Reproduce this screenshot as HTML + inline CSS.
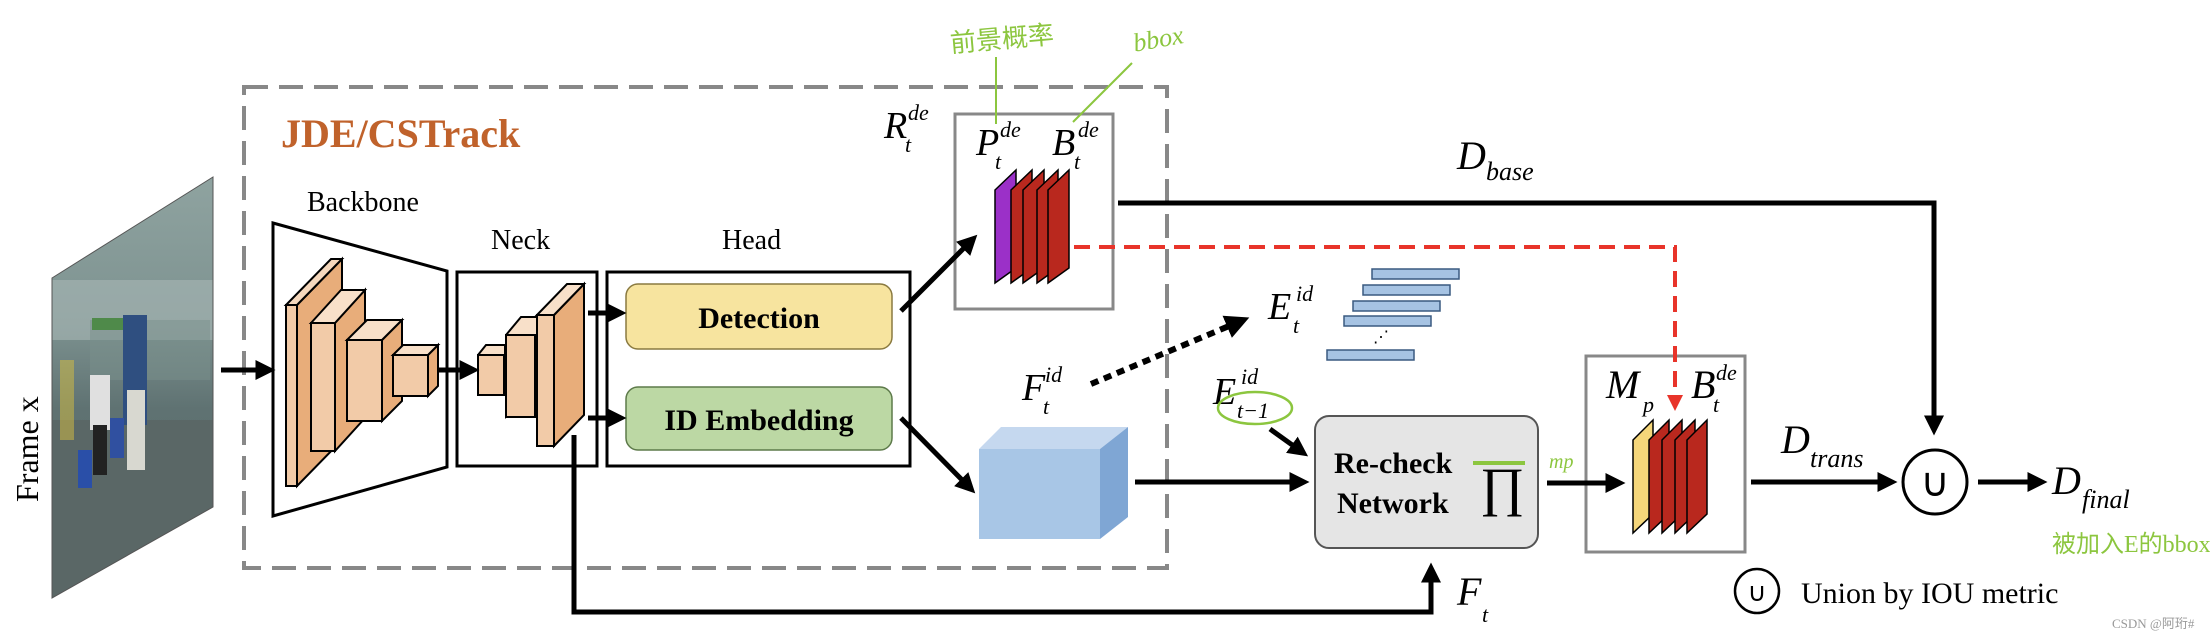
<!DOCTYPE html>
<html><head><meta charset="utf-8"><style>
html,body{margin:0;padding:0;background:#fff;}
svg{display:block;}
text{font-family:"Liberation Serif",serif;}
.it{font-style:italic;}
</style></head><body>
<svg width="2210" height="637" viewBox="0 0 2210 637" xmlns="http://www.w3.org/2000/svg">
<defs>
<marker id="ah" markerWidth="4" markerHeight="4" refX="2.5" refY="2" orient="auto" markerUnits="strokeWidth"><path d="M0,0 L4,2 L0,4 z" fill="#000"/></marker>
<marker id="ahr" markerWidth="4" markerHeight="4" refX="2.5" refY="2" orient="auto" markerUnits="strokeWidth"><path d="M0,0 L4,2 L0,4 z" fill="#e8342a"/></marker>
<linearGradient id="photo" x1="0" y1="0" x2="0" y2="1">
<stop offset="0" stop-color="#8fa3a0"/><stop offset="0.35" stop-color="#7d9290"/><stop offset="0.55" stop-color="#5f7272"/><stop offset="1" stop-color="#586866"/></linearGradient>
<clipPath id="pc"><polygon points="52,278 213,177 213,507 52,598"/></clipPath>
</defs>

<text x="0" y="0" font-size="32" transform="translate(38,502) rotate(-90)">Frame x</text>
<g clip-path="url(#pc)">
<rect x="52" y="177" width="161" height="421" fill="url(#photo)"/>
<rect x="52" y="280" width="161" height="60" fill="#a9b8b6" opacity="0.6"/>
<rect x="90" y="320" width="120" height="60" fill="#7a908c" opacity="0.5"/>
<rect x="92" y="318" width="40" height="12" fill="#4f8a4a"/>
<rect x="52" y="420" width="161" height="180" fill="#5a6766"/>
<rect x="123" y="315" width="24" height="110" fill="#2f4f80"/>
<rect x="127" y="390" width="18" height="80" fill="#d8d8d0"/>
<rect x="90" y="375" width="20" height="55" fill="#e0e0e0"/>
<rect x="93" y="425" width="14" height="50" fill="#222"/>
<rect x="78" y="450" width="14" height="38" fill="#2a4fa8"/>
<rect x="110" y="418" width="14" height="40" fill="#3050a0"/>
<rect x="60" y="360" width="14" height="80" fill="#d8c040" opacity="0.5"/>
</g>
<polygon points="52,278 213,177 213,507 52,598" fill="none" stroke="#555" stroke-width="1"/>

<rect x="244" y="87" width="923" height="481" fill="none" stroke="#888" stroke-width="4" stroke-dasharray="24,11"/>
<text x="281" y="147" font-size="40" font-weight="bold" fill="#c0622b">JDE/CSTrack</text>

<text x="307" y="211" font-size="28">Backbone</text>
<polygon points="273,223 447,271 447,467 273,516" fill="#fff" stroke="#000" stroke-width="3"/>
<g stroke="#000" stroke-width="2">
<polygon points="297,305 342,259 342,440 297,486" fill="#e8ad7a"/>
<polygon points="286,305 331,259 342,259 297,305" fill="#f5d8bd"/>
<rect x="286" y="305" width="11" height="181" fill="#f2cba8"/>
<polygon points="335,323 365,290 365,418 335,451" fill="#e8ad7a"/>
<polygon points="311,323 341,290 365,290 335,323" fill="#f8e0c9"/>
<rect x="311" y="323" width="24" height="128" fill="#f2cba8"/>
<polygon points="382,340 402,320 402,401 382,421" fill="#e8ad7a"/>
<polygon points="347,340 367,320 402,320 382,340" fill="#f8e0c9"/>
<rect x="347" y="340" width="35" height="81" fill="#f2cba8"/>
<polygon points="428,355 438,345 438,386 428,396" fill="#e8ad7a"/>
<polygon points="393,355 403,345 438,345 428,355" fill="#f8e0c9"/>
<rect x="393" y="355" width="35" height="41" fill="#f2cba8"/>
</g>

<text x="491" y="249" font-size="28">Neck</text>
<rect x="457" y="272" width="140" height="194" fill="#fff" stroke="#000" stroke-width="3"/>
<g stroke="#000" stroke-width="2">
<polygon points="478,355 486,345 505,345 505,395 478,395" fill="#f8e0c9"/>
<rect x="478" y="355" width="26" height="40" fill="#f2cba8"/>
<polygon points="506,335 521,317 537,317 537,400 506,417" fill="#f8e0c9"/>
<rect x="506" y="335" width="29" height="82" fill="#f2cba8"/>
<polygon points="554,315 584,284 584,415 554,446" fill="#e8ad7a"/>
<polygon points="537,315 567,284 584,284 554,315" fill="#f8e0c9"/>
<rect x="537" y="315" width="17" height="131" fill="#f2cba8"/>
</g>

<text x="722" y="249" font-size="28">Head</text>
<rect x="607" y="272" width="303" height="194" fill="#fff" stroke="#000" stroke-width="3"/>
<rect x="626" y="284" width="266" height="65" rx="12" fill="#f7e49f" stroke="#8a7a40" stroke-width="1.5"/>
<text x="759" y="328" font-size="30" font-weight="bold" text-anchor="middle">Detection</text>
<rect x="626" y="387" width="266" height="63" rx="12" fill="#bcd8a4" stroke="#5d7a4a" stroke-width="1.5"/>
<text x="759" y="430" font-size="30" font-weight="bold" text-anchor="middle">ID Embedding</text>

<text x="884" y="138" font-size="38" class="it">R</text>
<text x="908" y="120" font-size="22" class="it">de</text>
<text x="905" y="152" font-size="22" class="it">t</text>
<rect x="955" y="114" width="158" height="195" fill="#fff" stroke="#888" stroke-width="3"/>
<text x="976" y="155" font-size="38" class="it">P</text>
<text x="1000" y="137" font-size="22" class="it">de</text>
<text x="995" y="169" font-size="22" class="it">t</text>
<text x="1052" y="155" font-size="38" class="it">B</text>
<text x="1078" y="137" font-size="22" class="it">de</text>
<text x="1074" y="169" font-size="22" class="it">t</text>
<g stroke="#000" stroke-width="1.5">
<polygon points="995,190 1016,170 1016,268 995,283" fill="#9b30c8"/>
<polygon points="1011,190 1032,170 1032,268 1011,283" fill="#b9281e"/>
<polygon points="1023,190 1044,170 1044,268 1023,283" fill="#b9281e"/>
<polygon points="1037,190 1058,170 1058,268 1037,283" fill="#b9281e"/>
<polygon points="1048,190 1069,170 1069,268 1048,283" fill="#b9281e"/>
</g>

<line x1="996" y1="57" x2="996" y2="124" stroke="#8cc63f" stroke-width="2"/>
<line x1="1132" y1="63" x2="1073" y2="122" stroke="#8cc63f" stroke-width="2"/>
<text x="950" y="48" font-size="26" fill="#8cc63f" font-family="'Noto Sans CJK SC',sans-serif" transform="rotate(-5,1000,40)">前景概率</text>
<text x="1133" y="48" font-size="26" fill="#8cc63f" font-style="italic" transform="rotate(-10,1155,40)">bbox</text>

<text x="1457" y="169" font-size="40" class="it">D</text>
<text x="1486" y="180" font-size="26" class="it">base</text>

<text x="1022" y="400" font-size="38" class="it">F</text>
<text x="1045" y="382" font-size="22" class="it">id</text>
<text x="1043" y="414" font-size="22" class="it">t</text>
<text x="1268" y="319" font-size="38" class="it">E</text>
<text x="1296" y="301" font-size="22" class="it">id</text>
<text x="1293" y="333" font-size="22" class="it">t</text>
<g fill="#a6c3e3" stroke="#3a5a80" stroke-width="1.5">
<rect x="1372" y="269" width="87" height="10"/>
<rect x="1363" y="285" width="87" height="10"/>
<rect x="1353" y="301" width="87" height="10"/>
<rect x="1344" y="316" width="87" height="10"/>
<rect x="1327" y="350" width="87" height="10"/>
</g>
<text x="1373" y="342" font-size="16">⋰</text>

<polygon points="979,449 1001,427 1128,427 1100,449" fill="#c5d8ef"/>
<polygon points="1100,449 1128,427 1128,517 1100,539" fill="#7fa6d4"/>
<rect x="979" y="449" width="121" height="90" fill="#a8c6e6"/>

<text x="1213" y="404" font-size="38" class="it">E</text>
<text x="1241" y="384" font-size="22" class="it">id</text>
<text x="1237" y="418" font-size="22" class="it">t−1</text>
<ellipse cx="1255" cy="408" rx="37" ry="16" fill="none" stroke="#8cc63f" stroke-width="2.5"/>

<rect x="1315" y="416" width="223" height="132" rx="14" fill="#e5e5e5" stroke="#555" stroke-width="2"/>
<text x="1334" y="473" font-size="30" font-weight="bold">Re-check</text>
<text x="1337" y="513" font-size="30" font-weight="bold">Network</text>
<text x="1480" y="505" font-size="54">∏</text>
<line x1="1473" y1="463" x2="1525" y2="463" stroke="#8cc63f" stroke-width="4"/>
<text x="1549" y="468" font-size="20" fill="#8cc63f" class="it">mp</text>

<text x="1457" y="605" font-size="40" class="it">F</text>
<text x="1482" y="622" font-size="22" class="it">t</text>

<rect x="1586" y="356" width="159" height="196" fill="#fff" stroke="#888" stroke-width="3"/>
<text x="1606" y="398" font-size="40" class="it">M</text>
<text x="1643" y="412" font-size="22" class="it">p</text>
<text x="1691" y="398" font-size="40" class="it">B</text>
<text x="1716" y="380" font-size="22" class="it">de</text>
<text x="1713" y="412" font-size="22" class="it">t</text>
<g stroke="#000" stroke-width="1.5">
<polygon points="1633,440 1653,420 1653,514 1633,533" fill="#f5d67a"/>
<polygon points="1649,440 1669,420 1669,514 1649,533" fill="#b9281e"/>
<polygon points="1662,440 1682,420 1682,514 1662,533" fill="#b9281e"/>
<polygon points="1675,440 1695,420 1695,514 1675,533" fill="#b9281e"/>
<polygon points="1687,440 1707,420 1707,514 1687,533" fill="#b9281e"/>
</g>

<text x="1781" y="453" font-size="40" class="it">D</text>
<text x="1810" y="467" font-size="26" class="it">trans</text>

<circle cx="1935" cy="482" r="32" fill="#fff" stroke="#000" stroke-width="3"/>
<text x="1935" y="496" font-size="40" text-anchor="middle" font-family="'Liberation Sans',sans-serif">∪</text>

<text x="2052" y="494" font-size="40" class="it">D</text>
<text x="2082" y="508" font-size="26" class="it">final</text>
<text x="2052" y="552" font-size="24" fill="#8cc63f" font-family="'Noto Sans CJK SC',sans-serif">被加入E的bbox</text>

<circle cx="1757" cy="591" r="22" fill="#fff" stroke="#000" stroke-width="2.5"/>
<text x="1757" y="601" font-size="26" text-anchor="middle" font-family="'Liberation Sans',sans-serif">∪</text>
<text x="1801" y="603" font-size="30">Union by IOU metric</text>

<text x="2112" y="628" font-size="13" fill="#999" font-family="'Liberation Sans','Noto Sans CJK SC',sans-serif">CSDN @阿珩#</text>

<!-- all arrows on top -->
<g stroke="#000" stroke-width="5" fill="none">
<line x1="221" y1="370" x2="268" y2="370" marker-end="url(#ah)"/>
<line x1="438" y1="370" x2="472" y2="370" marker-end="url(#ah)"/>
<line x1="588" y1="313" x2="619" y2="313" marker-end="url(#ah)"/>
<line x1="588" y1="418" x2="619" y2="418" marker-end="url(#ah)"/>
<line x1="901" y1="311" x2="972" y2="240" marker-end="url(#ah)"/>
<line x1="901" y1="418" x2="970" y2="488" marker-end="url(#ah)"/>
<polyline points="1118,203 1934,203 1934,428" marker-end="url(#ah)"/>
<line x1="1135" y1="482" x2="1302" y2="482" marker-end="url(#ah)"/>
<line x1="1270" y1="429" x2="1302" y2="452" marker-end="url(#ah)"/>
<polyline points="574,435 574,612 1431,612 1431,570" marker-end="url(#ah)"/>
<line x1="1547" y1="483" x2="1618" y2="483" marker-end="url(#ah)"/>
<line x1="1751" y1="482" x2="1890" y2="482" marker-end="url(#ah)"/>
<line x1="1978" y1="482" x2="2040" y2="482" marker-end="url(#ah)"/>
</g>
<line x1="1091" y1="384" x2="1241" y2="321" stroke="#000" stroke-width="6" stroke-dasharray="8,6" marker-end="url(#ah)"/>
<polyline points="1074,247 1675,247 1675,405" fill="none" stroke="#e8342a" stroke-width="4" stroke-dasharray="16,9" marker-end="url(#ahr)"/>
</svg>
</body></html>
